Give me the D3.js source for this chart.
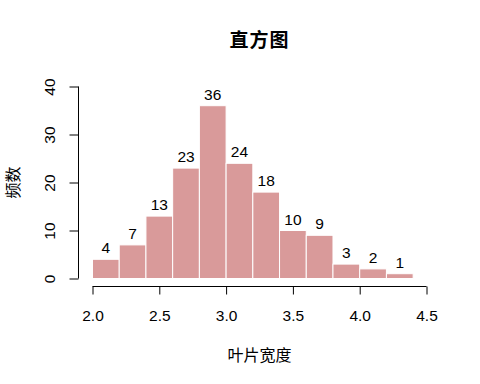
<!DOCTYPE html>
<html><head><meta charset="utf-8">
<script src="https://cdn.jsdelivr.net/npm/d3@7"></script>
<style>body{margin:0;background:#fff}svg{display:block}</style>
</head><body>
<script>
// Histogram bins of leaf width (bin edges) and their counts
const binStarts = [2.0, 2.2, 2.4, 2.6, 2.8, 3.0, 3.2, 3.4, 3.6, 3.8, 4.0, 4.2];
const binWidth = 0.2;
const counts = [4, 7, 13, 23, 36, 24, 18, 10, 9, 3, 2, 1];
const xTicks = [2.0, 2.5, 3.0, 3.5, 4.0, 4.5];
const yTicks = [0, 10, 20, 30, 40];

const W = 480, H = 384;
const svg = d3.select("body").append("svg").attr("width", W).attr("height", H);

const x = d3.scaleLinear().domain([2.0, 4.5]).range([92.5, 426.5]);
const y = d3.scaleLinear().domain([0, 40]).range([278.5, 86.5]);
const font = "'Liberation Sans', Arial, sans-serif";
const cjk = "'Noto Sans CJK SC', sans-serif";

// bars
svg.append("g").selectAll("rect").data(counts).join("rect")
  .attr("x", (d, i) => x(binStarts[i]))
  .attr("y", d => y(d))
  .attr("width", (d, i) => x(binStarts[i] + binWidth) - x(binStarts[i]))
  .attr("height", d => y(0) - y(d))
  .attr("fill", "#d99a9a")
  .attr("stroke", "#ffffff")
  .attr("stroke-width", 1);

// value labels
svg.append("g").selectAll("text").data(counts).join("text")
  .attr("x", (d, i) => x(binStarts[i] + binWidth / 2))
  .attr("y", d => y(d) - 6)
  .attr("text-anchor", "middle")
  .style("font-family", font).style("font-size", "15.5px")
  .attr("fill", "#000")
  .text(d => d);

// x axis
const xAxis = svg.append("g").attr("transform", "translate(0,286.5)")
  .call(d3.axisBottom(x).tickValues(xTicks).tickFormat(d3.format(".1f")).tickSize(8).tickSizeOuter(0));
xAxis.select(".domain").attr("d", `M${x(2.0)},0H${x(4.5)}`).attr("stroke", "#000");
xAxis.selectAll("line").attr("stroke", "#000");
xAxis.selectAll(".tick text")
  .style("font-family", font).style("font-size", "15.5px").attr("fill", "#000")
  .attr("y", 34).attr("dy", null);

// y axis
const yAxis = svg.append("g").attr("transform", "translate(78.5,0)")
  .call(d3.axisLeft(y).tickValues(yTicks).tickSize(9).tickSizeOuter(0));
yAxis.select(".domain").attr("d", `M0,${y(0)}V${y(40)}`).attr("stroke", "#000");
yAxis.selectAll("line").attr("stroke", "#000");
yAxis.selectAll(".tick text")
  .style("font-family", font).style("font-size", "15.5px").attr("fill", "#000")
  .attr("text-anchor", "middle")
  .attr("transform", "rotate(-90)")
  .attr("x", 0).attr("y", -29)
  .attr("dy", "0.35em");

// title
svg.append("text").attr("x", 259.5).attr("y", 47)
  .attr("text-anchor", "middle")
  .style("font-family", cjk).style("font-weight", "bold")
  .style("font-size", "19px").style("letter-spacing", "1px").attr("fill", "#000")
  .text("直方图");

// axis titles
svg.append("text").attr("x", 259.5).attr("y", 361)
  .attr("text-anchor", "middle")
  .style("font-family", cjk)
  .style("font-size", "16px").attr("fill", "#000")
  .text("叶片宽度");

svg.append("text")
  .attr("transform", `translate(19,${y(20)}) rotate(-90)`)
  .attr("text-anchor", "middle")
  .style("font-family", cjk)
  .style("font-size", "16px").attr("fill", "#000")
  .text("频数");
</script>
</body></html>
